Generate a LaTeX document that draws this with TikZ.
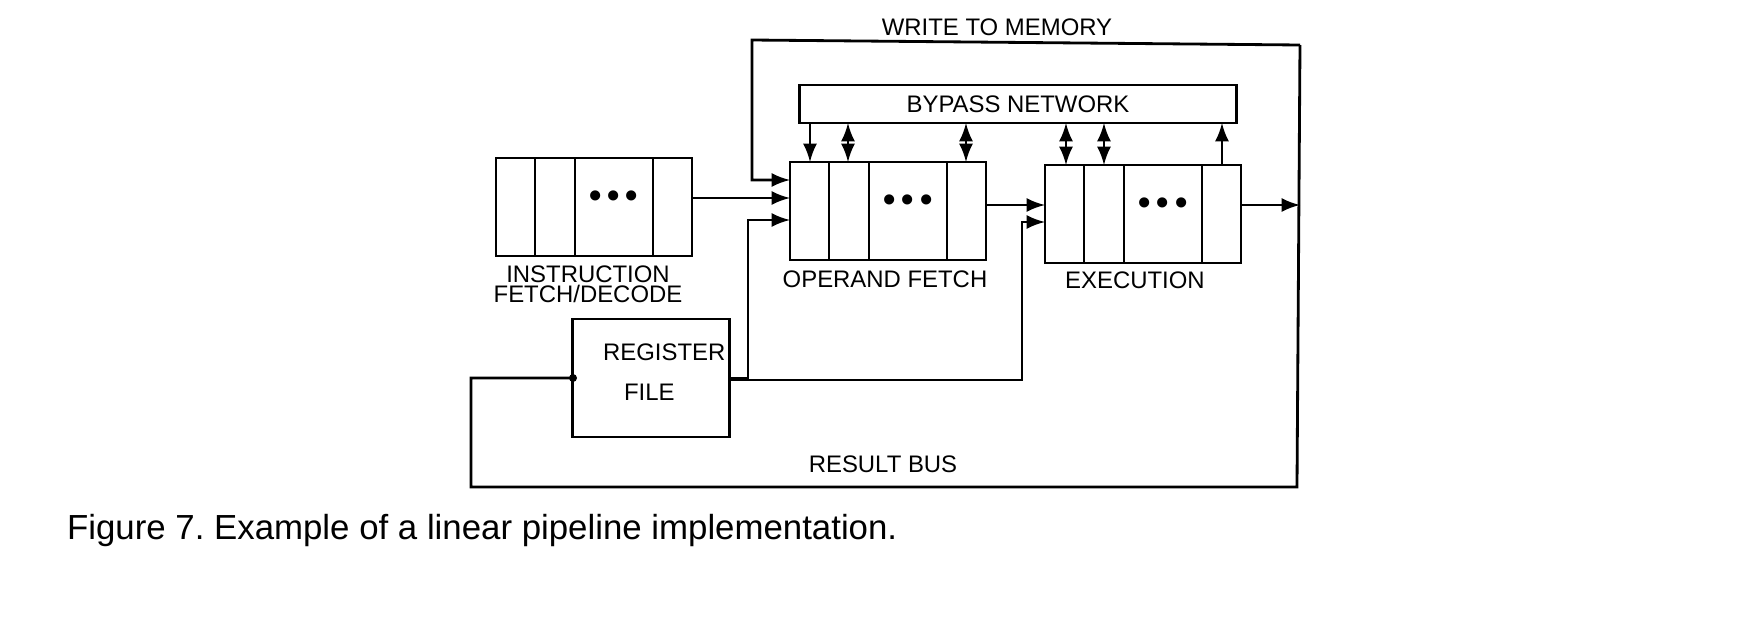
\documentclass[tikz,border=0pt]{standalone}
\usepackage{fontspec}
\setmainfont{Liberation Sans}
\usetikzlibrary{calc}
\begin{document}
\frenchspacing
\begin{tikzpicture}[x=0.01cm,y=-0.01cm,>=latex,thick,
	box/.style={draw,minimum width=1.96cm,minimum height=0.98cm,inner sep=0pt},
	lbl/.style={font=\fontsize{6.8}{7.6}\selectfont,align=center}]
\useasboundingbox (0,0) rectangle (1753,633);
\def\stufe#1#2#3{
	\node[box] (#1) at (#2+98,#3+49) {};
	\draw (#2+39,#3) -- (#2+39,#3+98);
	\draw (#2+79,#3) -- (#2+79,#3+98);
	\draw (#2+157,#3) -- (#2+157,#3+98);
	\node at (#2+118,#3+41) {\bfseries\textbullet\,\textbullet\,\textbullet};
}
\stufe{ifd}{496}{158}
\stufe{opf}{790}{162}
\stufe{exe}{1045}{165}
\node[draw,minimum width=4.37cm,minimum height=0.38cm,inner sep=0pt,lbl] (byp) at (1018,104) {BYPASS NETWORK};
\node[draw,minimum width=1.57cm,minimum height=1.18cm,inner sep=0pt] (reg) at (651,378) {};
\node[lbl,anchor=west] (regA) at (590,352) {REGISTER};
\node[lbl,anchor=west] (regB) at (611,392) {FILE};
\node[lbl] (ifdL) at (588,284) {INSTRUCTION\\[-2pt]FETCH/DECODE};
\node[lbl] (opfL) at (885,279) {OPERAND FETCH};
\node[lbl] (exeL) at (1135,280) {EXECUTION};
\node[lbl] (wtm) at (997,27) {WRITE TO MEMORY};
\node[lbl] (rbus) at (883,464) {RESULT BUS};
% pipeline flow
\coordinate (opfA) at (790,180);
\coordinate (opfB) at (790,198);
\coordinate (opfC) at (790,220);
\coordinate (exeA) at (1045,205);
\coordinate (exeB) at (1045,222);
\coordinate (outR) at (1300,205);
\coordinate (regIn) at (573,378);
\draw[->] (ifd.east|-opfB) -- (opfB);
\draw[->] (opf.east|-exeA) -- (exeA);
\draw[->] (exe.east|-outR) -- (outR);
\draw[->] (reg.east|-0,378) -- (748,378) -- (748,220) -- (opfC);
\draw[->] (reg.east|-0,380) -- (1022,380) -- (1022,222) -- (exeB);
% write to memory and result bus
\draw[->] (1300,45) -- (752,40) -- (752,180) -- (opfA);
\draw (1300,45) -- (1297,487) -- (471,487) -- (471,378) -- (regIn);
\fill (regIn) circle[radius=4];
% bypass
\def\hoch#1#2{
	\draw[#2] (#1,123) -- (#1,162);
}
\hoch{810}{->}
\hoch{848}{<->}
\hoch{966}{<->}
\draw[<->] (1066,123) -- (1066,165);
\draw[<->] (1104,123) -- (1104,165);
\draw[<-] (1222,123) -- (1222,165);
\node[anchor=west,font=\fontsize{9.9}{11}\selectfont] (cap) at (54,530) {Figure 7. Example of a linear pipeline implementation.};
\end{tikzpicture}
\end{document}
